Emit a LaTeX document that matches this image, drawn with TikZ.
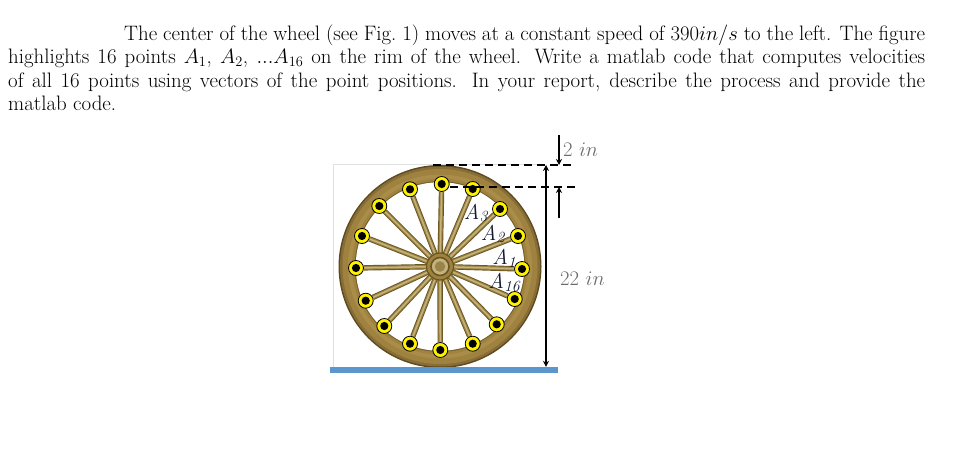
\documentclass[tikz,border=0pt]{standalone}
\usetikzlibrary{arrows.meta}
\definecolor{rimdark}{HTML}{5E4A1E}
\definecolor{rimgold}{HTML}{9F8240}
\definecolor{rimlight}{HTML}{A98D48}
\definecolor{spokedark}{HTML}{6A5620}
\definecolor{spokemid}{HTML}{9A8444}
\definecolor{spokelight}{HTML}{C6B27C}
\definecolor{groundblue}{HTML}{5B96CC}
\definecolor{dimgray}{HTML}{6A6A6A}
\definecolor{lblblue}{HTML}{141B30}
\pgfdeclarelayer{wheelback}
\pgfsetlayers{wheelback,main}
\newcommand{\wheellabel}[2]{\textit{#1}\raisebox{-2.5pt}{\fontsize{15.5}{15.5}\selectfont\textit{#2}}}
\tikzset{
  bodyline/.style={anchor=base west,inner sep=0pt,font=\fontsize{20.9}{24}\selectfont},
  rimpoint/.style={circle,draw=black,line width=0.8pt,fill=yellow,minimum size=15pt,inner sep=0pt,path picture={\fill[black] (path picture bounding box.center) circle (4.1pt);}},
  dimline/.style={line width=1.3pt,-{Stealth[length=6pt,width=6pt]}},
  dashline/.style={line width=1.7pt,dash pattern=on 8pt off 5pt},
  spokeout/.style={line width=5.4pt,draw=spokedark},
  spokemidl/.style={line width=3.6pt,draw=spokemid},
  spokein/.style={line width=1.5pt,draw=spokelight},
  dimtext/.style={inner sep=0pt,text=dimgray,font=\fontsize{21}{23}\selectfont},
  wlabel/.style={inner sep=0pt,text=lblblue,font=\fontsize{21.5}{22}\selectfont},
}
\begin{document}
\begin{tikzpicture}[x=1pt,y=-1pt]
\useasboundingbox (0,0) rectangle (957,463);
% text
\node[bodyline] (t1) at (124,40) {\makebox[801pt][s]{The center of the wheel (see Fig.~1) moves at a constant speed of $390in/s$ to the left. The figure}};
\node[bodyline] (t2) at (8,63.5) {\makebox[917pt][s]{highlights 16 points $A_1$, $A_2$, $...A_{16}$ on the rim of the wheel. Write a matlab code that computes velocities}};
\node[bodyline] (t3) at (8,87) {\makebox[917pt][s]{of all 16 points using vectors of the point positions. In your report, describe the process and provide the}};
\node[bodyline] (t4) at (8,110.5) {matlab code.};
% rim point nodes
\coordinate (c) at (440,266.5);
\node[rimpoint] (p1) at (522,269) {};
\node[rimpoint] (p2) at (518,236) {};
\node[rimpoint] (p3) at (500,209) {};
\node[rimpoint] (p4) at (472.7,189) {};
\node[rimpoint] (p5) at (441.7,184) {};
\node[rimpoint] (p6) at (410,189.3) {};
\node[rimpoint] (p7) at (379.3,206) {};
\node[rimpoint] (p8) at (362,236) {};
\node[rimpoint] (p9) at (356,268) {};
\node[rimpoint] (p10) at (365.7,300.7) {};
\node[rimpoint] (p11) at (384.3,326) {};
\node[rimpoint] (p12) at (410,343.7) {};
\node[rimpoint] (p13) at (440.3,350) {};
\node[rimpoint] (p14) at (472.7,343.7) {};
\node[rimpoint] (p15) at (496.7,324.3) {};
\node[rimpoint] (p16) at (514.7,299) {};
% hub
\node[circle,fill=rimgold,draw=spokedark,line width=1.2pt,minimum size=27pt,inner sep=0pt] (hub) at (c) {};
\node[circle,fill=spokelight,draw=spokedark,line width=1.6pt,minimum size=18pt,inner sep=0pt] (hubin) at (c) {};
\node[circle,fill=spokemid,draw=spokedark!70,line width=0.6pt,minimum size=10pt,inner sep=0pt] (hubcore) at (c) {};
\begin{pgfonlayer}{wheelback}
  \fill[white] (0,0) rectangle (957,463);
  \draw[black!12,line width=0.6pt] (333,370) -- (333,164) -- (545,164);
  \fill[rimdark] (c) circle (101.5);
  \fill[rimgold!85!black] (c) circle (100);
  \fill[rimgold] (c) circle (97.5);
  \fill[rimlight] (c) circle (92);
  \fill[rimgold] (c) circle (88);
  \fill[rimdark!70!rimgold] (c) circle (85.3);
  \fill[white] (c) circle (84.3);
  \foreach \i in {1,...,16} {\draw[spokeout] (c) -- (p\i);}
  \foreach \i in {1,...,16} {\draw[spokemidl] (c) -- (p\i);}
  \foreach \i in {1,...,16} {\draw[spokein] (c) -- (p\i);}
\end{pgfonlayer}
% wheel labels
\node[wlabel] (a3) at (476,213) {\wheellabel{A}{3}};
\node[wlabel] (a2) at (493,234) {\wheellabel{A}{2}};
\node[wlabel] (a1) at (504,258.5) {\wheellabel{A}{1}};
\node[wlabel] (a16) at (504.5,282.5) {\wheellabel{A}{16}};
% ground
\fill[groundblue] (330,367) rectangle (558,373);
\node[inner sep=0pt,minimum size=0pt] (ground) at (546,367) {};
% dimensions
\coordinate (top) at (546,165);
\coordinate (d1s) at (433,165);
\coordinate (d1e) at (574,165);
\coordinate (d2s) at (450,187);
\coordinate (d2e) at (576,187);
\draw[dashline] (d1s) -- (d1e);
\draw[dashline] (d2s) -- (d2e);
\draw[line width=1.3pt,{Stealth[length=6pt,width=6pt]}-{Stealth[length=6pt,width=6pt]}] (top) -- (ground);
\coordinate (ua) at (559,135);
\coordinate (ub) at (559,165);
\coordinate (la) at (559,218);
\coordinate (lb) at (559,187);
\draw[dimline] (ua) -- (ub);
\draw[dimline] (la) -- (lb);
\node[dimtext,anchor=base west] (lab2) at (563,156) {$2\ in$};
\node[dimtext,anchor=base west] (lab22) at (560,285) {$22\ in$};
\end{tikzpicture}
\end{document}
